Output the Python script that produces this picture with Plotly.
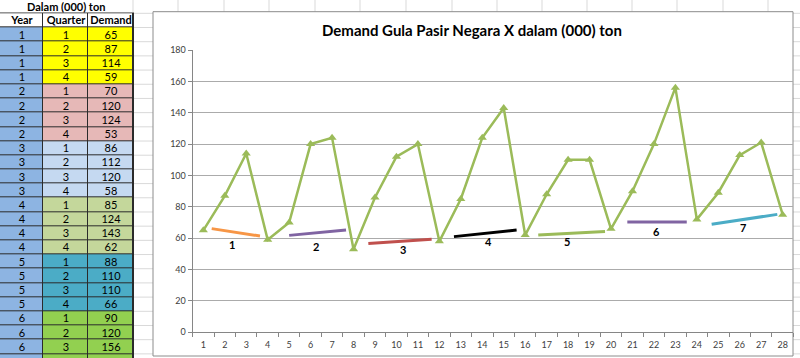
import plotly.graph_objects as go

# ---------------- data ----------------
periods = list(range(1, 29))
years = [1]*4 + [2]*4 + [3]*4 + [4]*4 + [5]*4 + [6]*4 + [7]*4
quarters = [1, 2, 3, 4] * 7
demand = [65, 87, 114, 59, 70, 120, 124, 53, 86, 112, 120, 58, 85, 124,
          143, 62, 88, 110, 110, 66, 90, 120, 156, 72, 89, 113, 121, 75]

# yearly trend segments (labelled 1..7)
seg_labels = ["1", "2", "3", "4", "5", "6", "7"]
seg_x0 = [1.39, 5.0, 8.69, 12.68, 16.61, 20.76, 24.69]
seg_x1 = [3.64, 7.65, 11.64, 15.6, 19.72, 23.53, 27.75]
seg_y0 = [66.1, 61.8, 56.7, 61.0, 62.0, 70.3, 68.9]
seg_y1 = [61.4, 65.2, 59.3, 65.2, 64.2, 70.3, 75.2]
label_x = [2.33, 6.25, 10.32, 14.31, 17.96, 22.13, 26.16]
label_y = [56.3, 55.0, 52.9, 58.2, 58.2, 64.1, 67.0]

table_headers = ["Year", "Quarter", "Demand"]
table_title = "Dalam (000) ton"
chart_title = "Demand Gula Pasir Negara X dalam (000) ton"

# ---------------- styles ----------------
W, H = 800, 358
FONT = "Lato"
seg_colors = ["#F79646", "#8064A2", "#C0504D", "#000000", "#9BBB59", "#8064A2", "#4BACC6"]
LINE_GREEN = "#9BBB59"
cell_colors = ["#FFFFFF", "#8DB4E2", "#FFFF00", "#E6B8B7", "#C5D9F1", "#C4D79B", "#4BACC6", "#92D050"]
SHEET_GRID = "#D9D9D9"

# table geometry (pixels)
col_edges = [0, 43, 88, 133]
hdr_top = 13.3
row_h = 14.19
n_rows_shown = 24
row_edges = [hdr_top] + [27.5 + row_h * i for i in range(n_rows_shown + 1)]

# table cell colours / texts
z = [[0, 0, 0]]
txt = [["<b>%s</b>" % h for h in table_headers]]
for i in range(n_rows_shown):
    ci = 1 + years[i]
    z.append([1, ci, ci])
    txt.append([str(years[i]), str(quarters[i]), str(demand[i])])

n_c = len(cell_colors) - 1
colorscale = [[k / n_c, c] for k, c in enumerate(cell_colors)]

fig = go.Figure()

fig.add_trace(go.Heatmap(
    x=col_edges, y=row_edges, z=z, text=txt, texttemplate="%{text}",
    textfont=dict(family=FONT, size=11, color="#000000"),
    colorscale=colorscale, zmin=0, zmax=n_c, showscale=False,
    xgap=1, ygap=1, hoverinfo="skip", xaxis="x2", yaxis="y2"))

# demand line
fig.add_trace(go.Scatter(
    x=periods, y=demand, mode="lines+markers",
    line=dict(color=LINE_GREEN, width=2.5),
    marker=dict(symbol="triangle-up", size=8, color=LINE_GREEN),
    hoverinfo="skip", showlegend=False))

# trend segments
for i in range(len(seg_labels)):
    fig.add_trace(go.Scatter(
        x=[seg_x0[i], seg_x1[i]], y=[seg_y0[i], seg_y1[i]], mode="lines",
        line=dict(color=seg_colors[i], width=3),
        hoverinfo="skip", showlegend=False))

annotations = []
for i in range(len(seg_labels)):
    annotations.append(dict(x=label_x[i], y=label_y[i], xref="x", yref="y",
                            xanchor="center", yanchor="middle",
                            text="<b>%s</b>" % seg_labels[i], showarrow=False,
                            font=dict(family=FONT, size=11, color="#000000")))

annotations.append(dict(x=472.5 / W, y=1 - 30 / H, xref="paper", yref="paper",
                        xanchor="center", yanchor="middle",
                        text="<b>%s</b>" % chart_title, showarrow=False,
                        font=dict(family=FONT, size=15, color="#000000")))
annotations.append(dict(x=66 / W, y=1 - 6.5 / H, xref="paper", yref="paper",
                        xanchor="center", yanchor="middle",
                        text="<b>%s</b>" % table_title, showarrow=False,
                        font=dict(family=FONT, size=11, color="#000000")))

# spreadsheet gridlines & frames
shapes = []
for cx in [133, 178, 224, 269, 315, 360, 406, 452, 497, 542, 587, 632, 677, 723, 768]:
    shapes.append(dict(type="line", xref="paper", yref="paper", layer="below",
                       x0=cx / W, x1=cx / W, y0=1, y1=1 - 12.3 / H,
                       line=dict(color=SHEET_GRID, width=1)))
for ry in row_edges:
    for xa, xb in [(133, 153), (793, 800)]:
        shapes.append(dict(type="line", xref="paper", yref="paper", layer="below",
                           x0=xa / W, x1=xb / W, y0=1 - ry / H, y1=1 - ry / H,
                           line=dict(color=SHEET_GRID, width=1)))
# table border backdrop
shapes.append(dict(type="rect", xref="paper", yref="paper", layer="below",
                   x0=0, x1=134 / W, y0=0, y1=1 - 12.6 / H,
                   fillcolor="#2B2B2B", line=dict(width=0)))
# chart frame
shapes.append(dict(type="rect", xref="paper", yref="paper", layer="below",
                   x0=153 / W, x1=793 / W, y0=1 - 356 / H, y1=1 - 11.7 / H,
                   fillcolor="#FFFFFF", line=dict(color="#8C8C8C", width=1)))

fig.update_layout(
    width=W, height=H, autosize=False,
    margin=dict(l=0, r=0, t=0, b=0),
    paper_bgcolor="#FFFFFF", plot_bgcolor="rgba(0,0,0,0)",
    font=dict(family=FONT, color="#404040"),
    showlegend=False,
    annotations=annotations, shapes=shapes,
    xaxis=dict(domain=[192.6 / W, 793.4 / W], range=[0.5, 28.5],
               tickmode="linear", tick0=1, dtick=1, ticks="",
               minor=dict(ticks="outside", ticklen=4, tick0=0.5, dtick=1,
                          tickcolor="#868686", showgrid=False),
               ticklabelstandoff=4,
               showgrid=False, zeroline=False, showline=True,
               linecolor="#868686", linewidth=1, automargin=False,
               tickfont=dict(family=FONT, size=9, color="#404040"),
               fixedrange=True),
    yaxis=dict(domain=[1 - 332.3 / H, 1 - 50 / H], range=[0, 180],
               tickmode="linear", tick0=0, dtick=20,
               ticks="outside", ticklen=4, tickcolor="#868686",
               showgrid=True, gridcolor="#ABABAB", gridwidth=1,
               zeroline=False, showline=True, linecolor="#868686",
               automargin=False,
               tickfont=dict(family=FONT, size=9, color="#404040"),
               fixedrange=True),
    xaxis2=dict(domain=[0, 134 / W], range=[0, 134], visible=False,
                fixedrange=True),
    yaxis2=dict(domain=[0, 1], range=[H, 0], visible=False, fixedrange=True),
)

fig.write_html(
    "out.html",
    config={"displayModeBar": False},
    post_script="document.body.style.margin='0';document.body.style.overflow='hidden';",
)
